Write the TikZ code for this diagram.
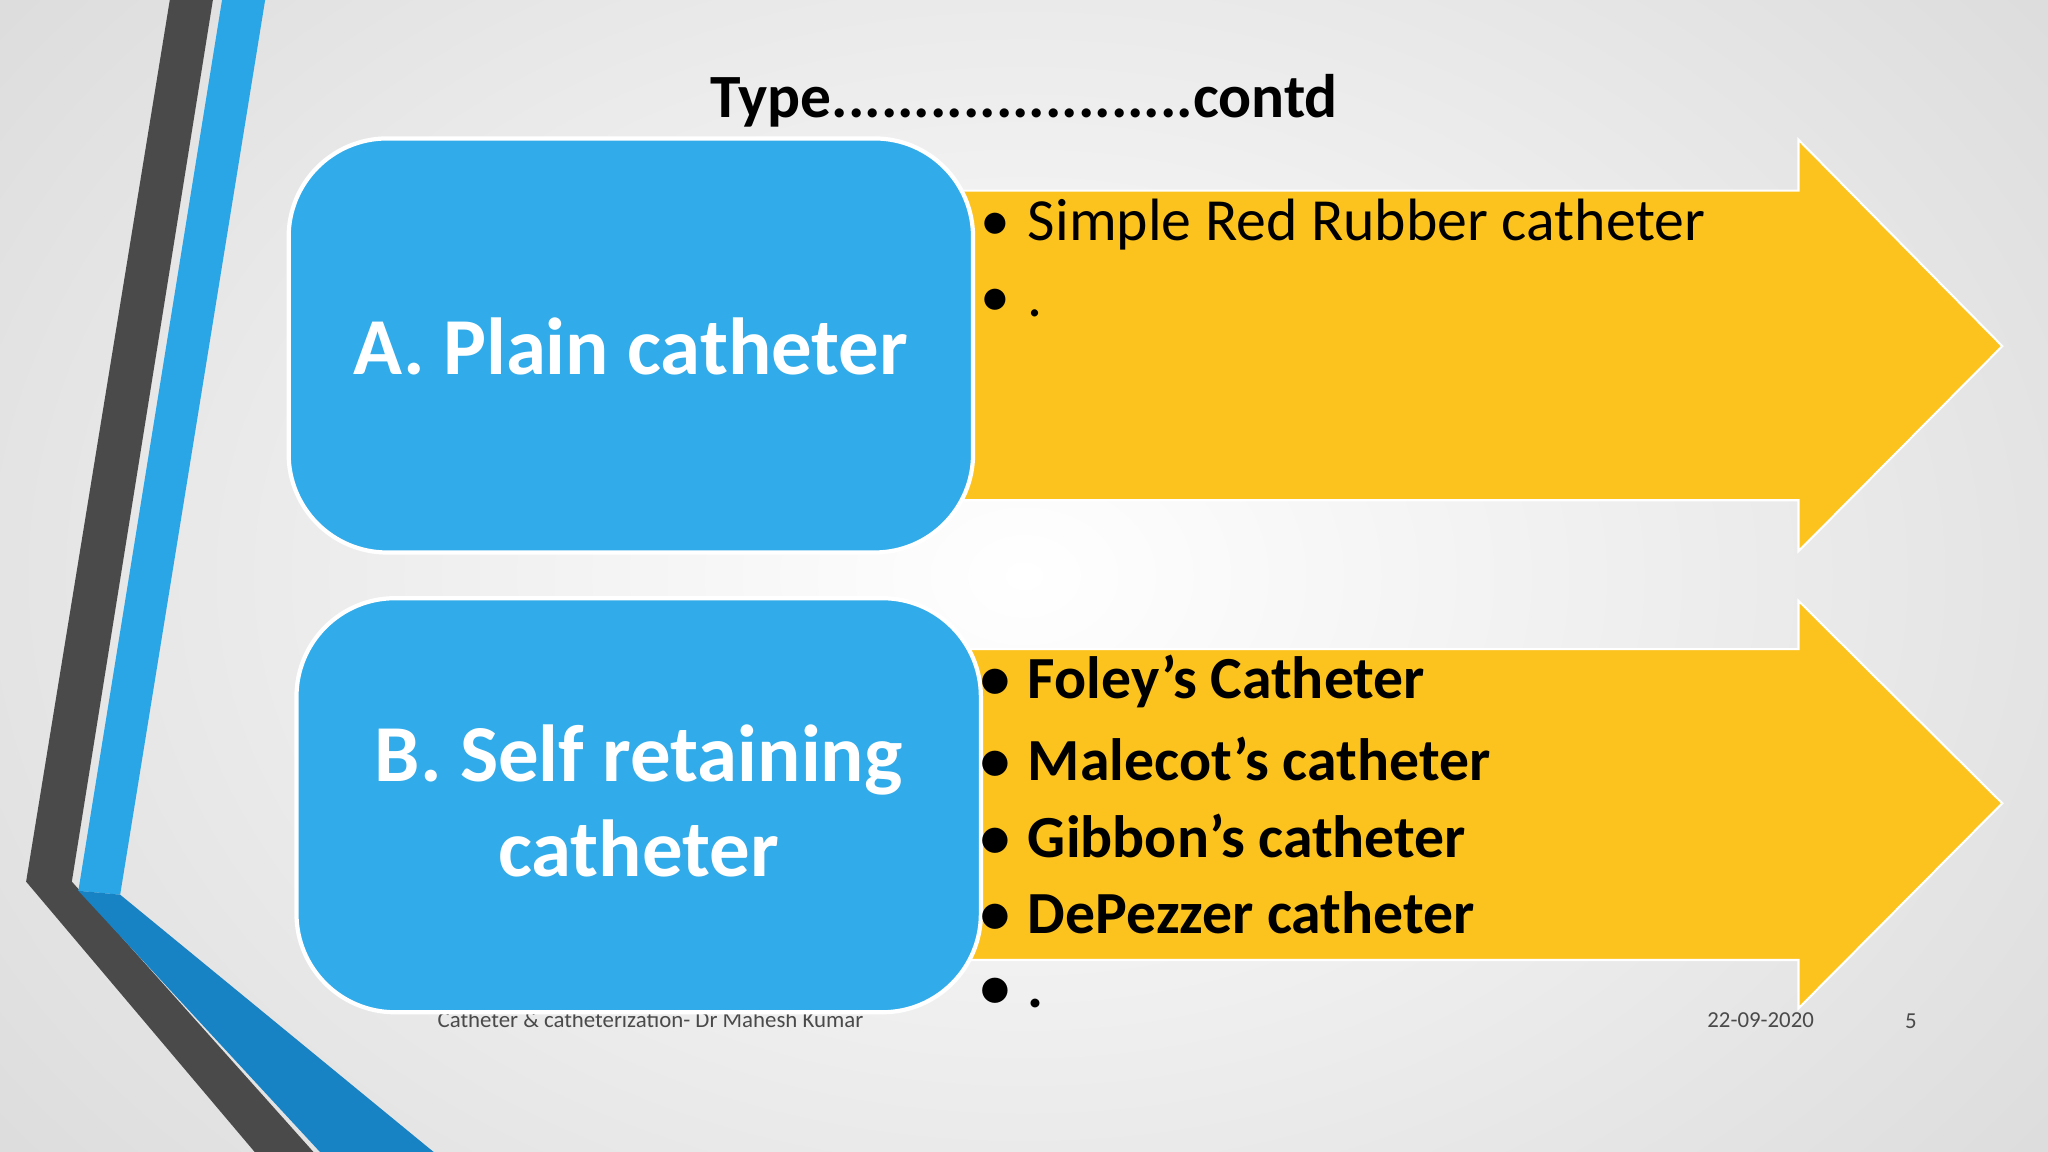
\documentclass[tikz,border=0pt]{standalone}
\usepackage{fontspec}
\setmainfont{Carlito}
\definecolor{bblue}{HTML}{31ABE9}
\definecolor{ayel}{HTML}{FCC31E}
\definecolor{dgray}{HTML}{4A4A4A}
\definecolor{sblue}{HTML}{2AA5E6}
\definecolor{dblue}{HTML}{1783C4}
\begin{document}
\begin{tikzpicture}[x=0.013061cm,y=-0.013061cm,
  boxst/.style={draw=white,line width=1.2pt,fill=bblue,rounded corners=28pt},
  arrowst/.style={fill=ayel,draw=white,line width=0.6pt},
  bul/.style={anchor=west,inner sep=0pt,font=\fontsize{17}{20}\selectfont},
  bulb/.style={bul,font=\fontsize{17}{20}\selectfont\bfseries},
  foot/.style={inner sep=0pt,font=\fontsize{6.5}{8}\selectfont,text=dgray}]
\useasboundingbox (0,0) rectangle (1568,882);
\shade[inner color=white,outer color=gray!35] (-500,-500) rectangle (2068,1382);
% stripes
\fill[dgray] (130,0) -- (163,0) -- (55,675) -- (240,882) -- (195,882) -- (20,675) -- cycle;
\fill[sblue] (170,0) -- (203,0) -- (92,685) -- (60,682) -- cycle;
\fill[dblue] (60,682) -- (92,685) -- (332,882) -- (245,882) -- cycle;
% title
\node[font=\fontsize{17.5}{22}\selectfont\bfseries] (title) at (784,77) {Type......................contd};
% footer
\node[foot] (f1) at (498,781) {Catheter \& catheterization- Dr Mahesh Kumar};
\node[foot] (f2) at (1348,781) {22-09-2020};
\node[foot] (f3) at (1463,782) {5};
% arrows
\path[arrowst] (730,146) -- (1377,146) -- (1377,107) -- (1533,265) -- (1377,422) -- (1377,383) -- (730,383) -- cycle;
\path[arrowst] (735,497) -- (1377,497) -- (1377,460) -- (1533,615) -- (1377,772) -- (1377,735) -- (735,735) -- cycle;
% boxes
\path[boxst] (221,106) rectangle (745,423);
\path[boxst] (227,458) rectangle (751,775);
\node[text=white,font=\fontsize{23}{27}\selectfont\bfseries] (At) at (483,265) {A. Plain catheter};
\node[text=white,font=\fontsize{23}{27}\selectfont\bfseries,align=center] (Bt) at (489,613) {B. Self retaining\\catheter};
% bullets
\node[bul] (b1) at (750,172) {\textbullet\hspace{0.3em}Simple Red Rubber catheter};
\node[bul] (b2) at (750,232) {\textbullet\hspace{0.3em}.};
\node[bulb] (c1) at (750,522) {\textbullet\hspace{0.3em}Foley’s Catheter};
\node[bulb] (c2) at (750,581) {\textbullet\hspace{0.3em}Malecot’s catheter};
\node[bulb] (c3) at (750,640) {\textbullet\hspace{0.3em}Gibbon’s catheter};
\node[bulb] (c4) at (750,699) {\textbullet\hspace{0.3em}DePezzer catheter};
\node[bulb] (c5) at (750,760) {\textbullet\hspace{0.3em}.};
\end{tikzpicture}
\end{document}
